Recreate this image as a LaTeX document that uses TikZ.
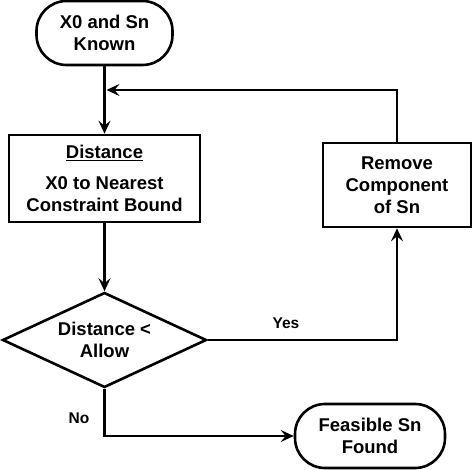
\documentclass[tikz,border=0pt]{standalone}
\usepackage{fontspec}
\setmainfont{Liberation Sans}
\usetikzlibrary{shapes.geometric,arrows.meta}
\begin{document}
\begin{tikzpicture}[x=1pt,y=-1pt,
  line width=2.6pt,
  txt/.style={font=\fontsize{18.5}{22}\selectfont\bfseries, align=center, inner sep=0pt},
  term/.style={txt, draw, rounded corners=30pt, minimum width=136pt, minimum height=64pt},
  proc/.style={txt, draw},
  decis/.style={txt, draw, diamond, aspect=2.15, minimum width=204pt, minimum height=95pt},
  lbl/.style={font=\fontsize{15.5}{17}\selectfont\bfseries, inner sep=0pt},
  arr/.style={-{Stealth[length=13pt,width=12pt,inset=5pt]}}]
\useasboundingbox (0,0) rectangle (474,470);
\node[term] (start) at (104.5,33) {X0 and Sn\\Known};
\node[proc, minimum width=191pt, minimum height=87pt] (dist) at (104.5,178.5)
  {\underline{Distance}\\[9pt]X0 to Nearest\\Constraint Bound};
\node[proc, minimum width=148pt, minimum height=84pt] (rem) at (397,185)
  {Remove\\Component\\of Sn};
\node[decis] (dia) at (104.5,340) {Distance <\\Allow};
\node[term, minimum width=150pt, minimum height=64pt] (feas) at (370,436) {Feasible Sn\\Found};
\coordinate (join) at (106.5,90);
\draw[arr] (start) -- (dist);
\draw[arr] (dist) -- (dia);
\draw[arr] (dia.east) -| (rem.south);
\draw[arr] (rem.north) |- (join);
\draw[arr] (dia.south) |- (feas.west);
\node[lbl] (yes) at (286,323) {Yes};
\node[lbl] (no) at (79,418) {No};
\end{tikzpicture}
\end{document}
